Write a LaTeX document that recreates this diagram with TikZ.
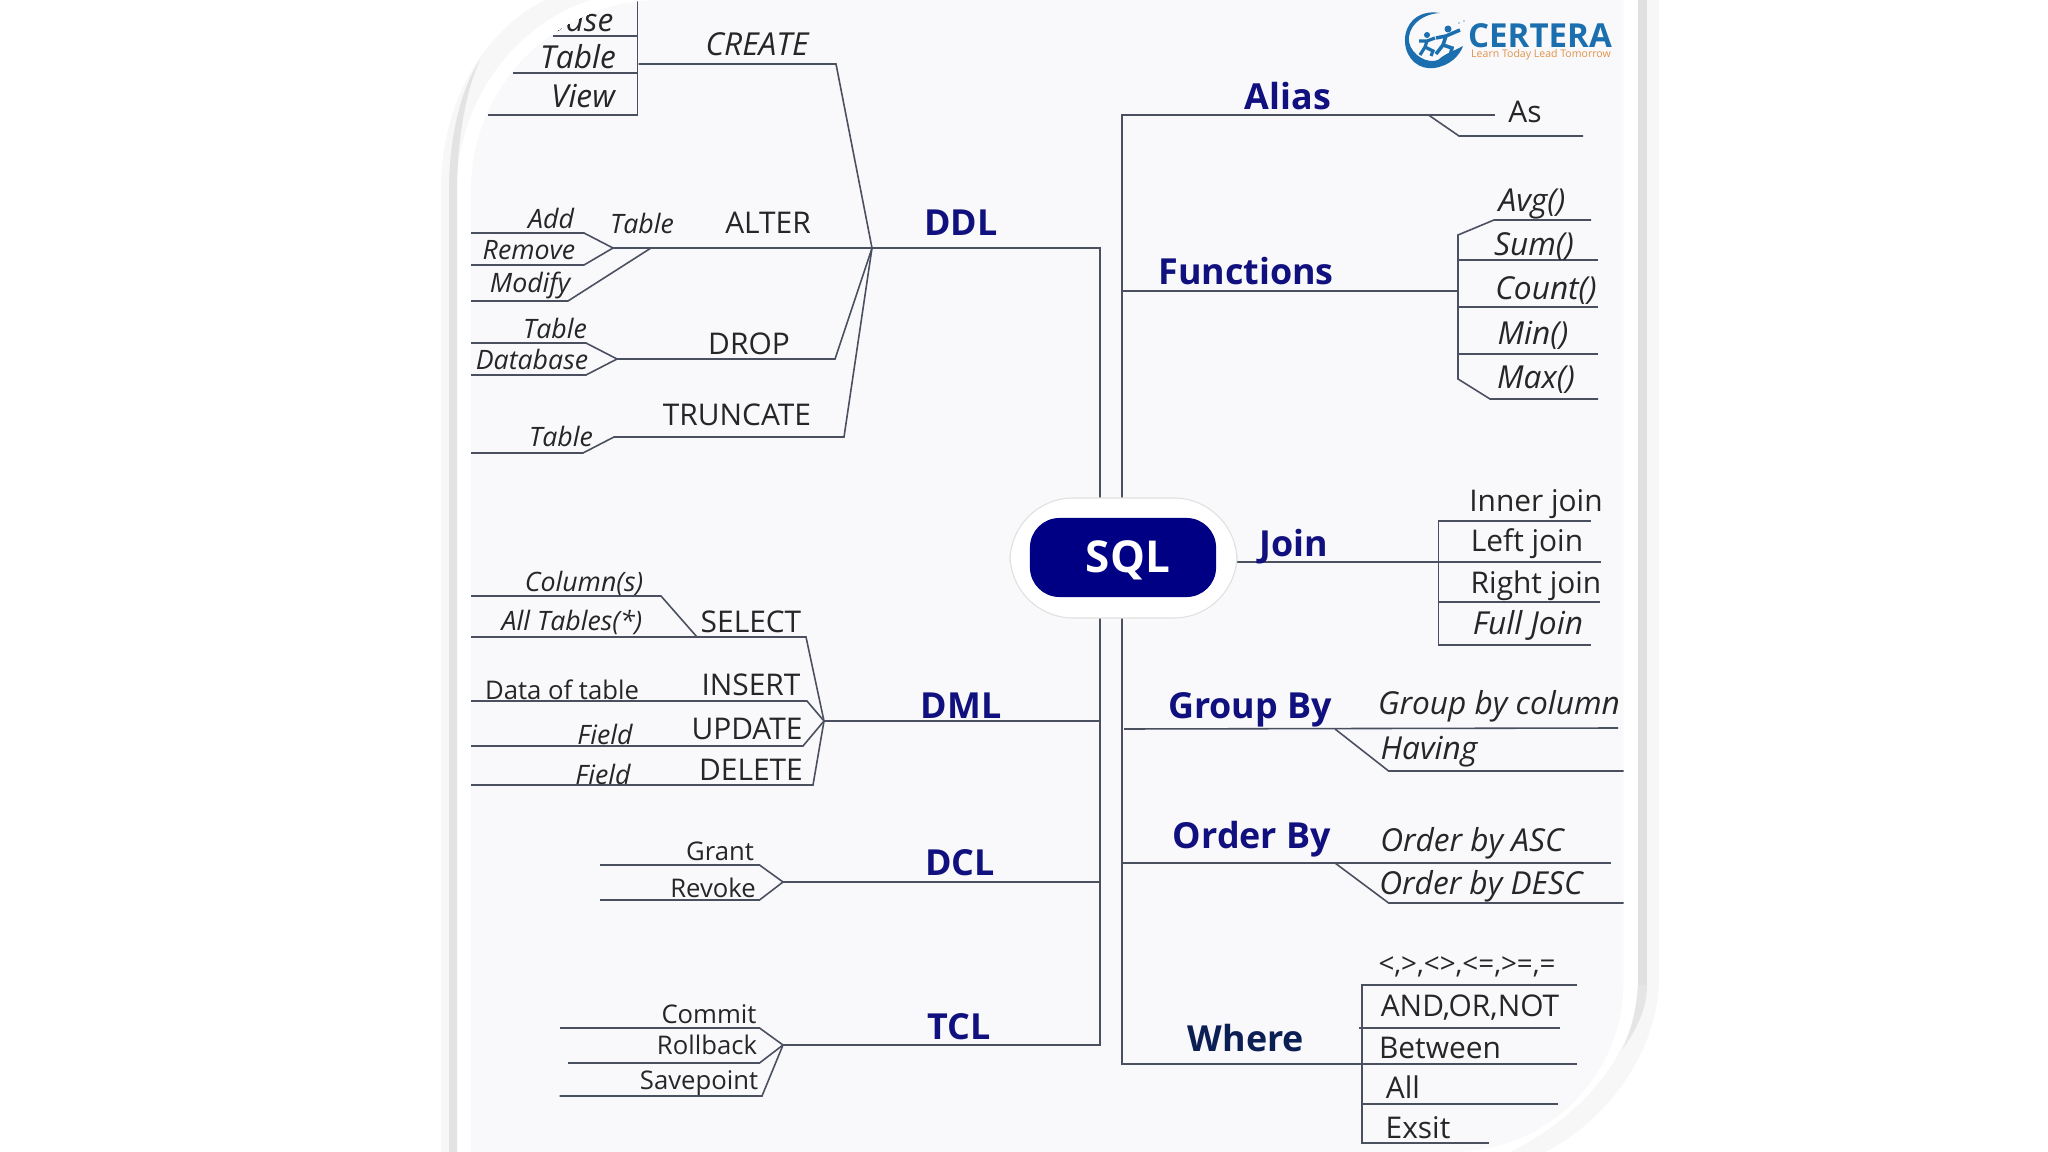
\documentclass[tikz,border=0pt]{standalone}
\usepackage{fontspec}
\setmainfont{Open Sans}
\definecolor{navy}{HTML}{10107F}
\definecolor{pillnavy}{HTML}{000085}
\definecolor{wherenavy}{HTML}{0B1F55}
\definecolor{wire}{HTML}{4A5060}
\definecolor{panel}{HTML}{F9F8FA}
\definecolor{logoblue}{HTML}{1B6FAE}
\definecolor{logoorange}{HTML}{E0924A}
\tikzset{
	line/.style={draw=wire, line width=0.45pt},
	head/.style={anchor=base, inner sep=0pt, yshift=-0.35pt, text=navy, font=\fontsize{10.2}{12}\selectfont\bfseries},
	leaf/.style={anchor=base, inner sep=0pt, yshift=-0.3pt, text=black!85, font=\fontsize{8.5}{10}\selectfont},
	leafit/.style={leaf, font=\fontsize{9}{10}\selectfont\itshape},
	tiny/.style={leaf, font=\fontsize{7.3}{9}\selectfont},
	tinyit/.style={leaf, font=\fontsize{7.6}{9}\selectfont\itshape},
}
\begin{document}
\begin{tikzpicture}[x=0.01cm, y=-0.01cm]
		\useasboundingbox (0, 0) rectangle (2048, 1152);
		
		%%%%% SHEET %%%%%
		\fill[black!3] (441, 1152) -- (441, 190) .. controls (441, 100) and (485, 30) .. (545, 0) -- (590, 0) .. controls (515, 25) and (457, 100) .. (457, 190) -- (457, 1152) -- cycle;
		\fill[black!11] (449, 1152) -- (449, 190) .. controls (449, 140) and (460, 90) .. (480, 60) .. controls (466, 90) and (457, 140) .. (457, 190) -- (457, 1152) -- cycle;
		\fill[black!3] (1638, 0) rectangle (1659, 985);
		\fill[black!12] (1638, 0) rectangle (1647, 985);
		\fill[black!3] (1638, 985) .. controls (1635, 1060) and (1575, 1120) .. (1510, 1152) -- (1545, 1152) .. controls (1600, 1125) and (1655, 1060) .. (1659, 985) -- cycle;
		\fill[black!10] (1638, 985) .. controls (1636, 1010) and (1632, 1030) .. (1622, 1050) .. controls (1636, 1030) and (1647, 1010) .. (1647, 985) -- cycle;
		\path[fill=panel] (471, 1152) -- (471, 190) .. controls (471, 85) and (556, 0) .. (661, 0) -- (1623.5, 0) -- (1623.5, 982) .. controls (1623.5, 1076) and (1547, 1152) .. (1453, 1152) -- cycle;
		
		\begin{scope}
			\clip (471, 1152) -- (471, 190) .. controls (471, 85) and (556, 0) .. (661, 0) -- (1623.5, 0) -- (1623.5, 982) .. controls (1623.5, 1076) and (1547, 1152) .. (1453, 1152) -- cycle;
			
			%%%%% LEFT %%%%%
			\coordinate (ddlhub) at (872, 248);
			\coordinate (dmlhub) at (824, 721);
			\coordinate (dclhub) at (783, 882);
			\coordinate (tclhub) at (783, 1045);
			\coordinate (ltrunk) at (1100, 248);
			\coordinate (ltrunkend) at (1100, 1045);
			\draw[line] (ddlhub) -- (ltrunk) -- (ltrunkend) -- (tclhub);
			\draw[line] (dmlhub) -- (ltrunk |- dmlhub);
			\draw[line] (dclhub) -- (ltrunk |- dclhub);
			
			% ddl
			\draw[line] (637.5, 0) -- (637.5, 115) -- (488, 115);
			\draw[line] (637.5, 36) -- (553, 36);
			\draw[line] (637.5, 73) -- (513, 73);
			\draw[line] (638.5, 64) -- (836, 64) -- (ddlhub);
			\draw[line] (471, 233) -- (584, 233) -- (613, 248) -- (584, 265) -- (471, 265);
			\draw[line] (613, 248) -- (ddlhub);
			\draw[line] (471, 301) -- (568, 301) -- (651, 248);
			\draw[line] (471, 343) -- (586, 343) -- (617, 359) -- (586, 375) -- (471, 375);
			\draw[line] (617, 359) -- (835, 359) -- (ddlhub);
			\draw[line] (471, 453) -- (583, 453) -- (614, 437) -- (844, 437) -- (ddlhub);
			
			\node[leafit, anchor=base east] (database) at (614, 30) {Database};
			\node[leafit] (createtable) at (578, 67) {Table};
			\node[leafit] (createview) at (583, 106) {View};
			\node[leafit] (create) at (757, 54) {CREATE};
			\node[leaf] (alter) at (768, 232) {ALTER};
			\node[tinyit] (altertable) at (642, 232) {Table};
			\node[tinyit] (add) at (551, 227) {Add};
			\node[tinyit] (remove) at (529, 258) {Remove};
			\node[tinyit] (modify) at (530, 291) {Modify};
			\node[leaf] (drop) at (749, 353) {DROP};
			\node[tinyit] (droptable) at (555, 337) {Table};
			\node[tinyit] (dropdb) at (532, 368) {Database};
			\node[leaf] (truncate) at (737, 424) {TRUNCATE};
			\node[tinyit] (trunctable) at (561, 445) {Table};
			\node[head] (ddl) at (961, 234) {DDL};
			
			% dml
			\draw[line] (471, 596) -- (661, 596) -- (697, 637);
			\draw[line] (471, 637) -- (806, 637) -- (dmlhub);
			\draw[line] (471, 701) -- (807, 701) -- (dmlhub) -- (803, 746) -- (471, 746);
			\draw[line] (471, 785) -- (813, 785) -- (dmlhub);
			
			\node[tinyit] (column) at (584, 590) {Column(s)};
			\node[tinyit] (alltables) at (572, 629) {All Tables(*)};
			\node[leaf] (select) at (751, 631) {SELECT};
			\node[leaf] (insert) at (751, 694) {INSERT};
			\node[tiny] (datatable) at (562, 698) {Data of table};
			\node[leaf] (update) at (747, 738) {UPDATE};
			\node[tinyit] (fieldu) at (605, 743) {Field};
			\node[leaf] (delete) at (751, 779) {DELETE};
			\node[tinyit] (fieldd) at (603, 783) {Field};
			\node[head] (dml) at (961, 717) {DML};
			
			% dcl, tcl
			\draw[line] (600, 865) -- (759.5, 865) -- (dclhub) -- (759.5, 900) -- (600, 900);
			\draw[line] (560, 1028) -- (759.5, 1028) -- (tclhub) -- (759.5, 1063) -- (568, 1063);
			\draw[line] (559.5, 1096) -- (762, 1096) -- (tclhub);
			
			\node[tiny] (grant) at (720, 859) {Grant};
			\node[tiny] (revoke) at (713, 896) {Revoke};
			\node[head] (dcl) at (960, 874) {DCL};
			\node[tiny] (commit) at (709, 1022) {Commit};
			\node[tiny] (rollback) at (707, 1053) {Rollback};
			\node[tiny] (savepoint) at (699, 1088) {Savepoint};
			\node[head] (tcl) at (959, 1038) {TCL};
			
			%%%%% RIGHT %%%%%
			\coordinate (rtrunk) at (1122, 115);
			\coordinate (rtrunkend) at (1122, 1064);
			\coordinate (funchub) at (1458, 291);
			\coordinate (joinstart) at (1236, 562);
			\coordinate (joinhub) at (1438.5, 562);
			\coordinate (wherehub) at (1362, 1064);
			\draw[line] (1495, 115) -- (rtrunk) -- (rtrunkend) -- (wherehub);
			\draw[line] (rtrunk |- funchub) -- (funchub);
			
			% alias
			\draw[line] (1428.5, 115) -- (1459, 136) -- (1583, 136);
			\node[head] (alias) at (1288, 108) {Alias};
			\node[leaf] (as) at (1525, 121) {As};
			
			% functions
			\draw[line] (1591, 220) -- (1494, 220) -- (1458, 235) -- (1458, 379) -- (1490, 399) -- (1598, 399);
			\foreach \y in {260, 307, 354}
				\draw[line] (1458, \y) -- (1598, \y);
			\node[head] (functions) at (1246, 283) {Functions};
			\node[leafit] (avg) at (1532, 210) {Avg()};
			\node[leafit] (sum) at (1534, 254) {Sum()};
			\node[leafit] (count) at (1546, 298) {Count()};
			\node[leafit] (min) at (1533, 343) {Min()};
			\node[leafit] (max) at (1536, 387) {Max()};
			
			% join
			\draw[line] (joinstart) -- (joinhub);
			\draw[line] (1591, 521) -- (1438.5, 521) -- (1438.5, 645) -- (1591, 645);
			\draw[line] (joinhub) -- (1600.5, 562);
			\draw[line] (1438.5, 602) -- (1600, 602);
			\node[head] (join) at (1294, 555) {Join};
			\node[leaf] (inner) at (1536, 510) {Inner join};
			\node[leaf] (left) at (1527, 550) {Left join};
			\node[leaf] (right) at (1536, 592) {Right join};
			\node[leafit] (full) at (1528, 633) {Full Join};
			
			% group by, order by
			\draw[line] (1124, 729) -- (1618, 728);
			\draw[line] (1335, 729) -- (1388.6, 771) -- (1623.5, 771);
			\draw[line] (rtrunk |- 0, 863) -- (1611, 863);
			\draw[line] (1335, 863) -- (1388.6, 903) -- (1623.5, 903);
			\node[head] (groupby) at (1250, 717) {Group By};
			\node[leafit] (groupcol) at (1499, 713) {Group by column};
			\node[leafit] (having) at (1429, 758) {Having};
			\node[head] (orderby) at (1252, 847) {Order By};
			\node[leafit] (orderasc) at (1472, 850) {Order by ASC};
			\node[leafit] (orderdesc) at (1481, 893) {Order by DESC};
			
			% where
			\draw[line] (wherehub) -- (1576.5, 1064);
			\draw[line] (1576.5, 985) -- (1362, 985) -- (1362, 1143) -- (1489, 1143);
			\draw[line] (1359, 1028) -- (1560, 1028);
			\draw[line] (1362, 1104) -- (1558, 1104);
			\node[head, text=wherenavy] (where) at (1246, 1050) {Where};
			\node[tiny, font=\fontsize{7.9}{9}\selectfont] (compare) at (1467, 972) {<,>,<>,<=,>=,=};
			\node[leaf] (andornot) at (1470, 1015) {AND,OR,NOT};
			\node[leaf] (between) at (1440, 1057) {Between};
			\node[leaf] (all) at (1403, 1097) {All};
			\node[leaf] (exsit) at (1418, 1137) {Exsit};
		\end{scope}
		
		%%%%% CENTRE %%%%%
		\draw[draw=black!12, fill=white, line width=0.3pt, rounded corners=60\pgflinewidth] (1010, 498) rectangle (1237, 618);
		\node[fill=pillnavy, rounded corners=8.4pt, minimum width=5.27cm*0.353, minimum height=0.79cm, inner sep=0pt, text=white, font=\fontsize{12.5}{14}\selectfont\bfseries] (sql) at (1123, 557.5) {\hspace*{2.8pt}\raisebox{-0.8pt}[\height][\depth]{SQL}};
		
		%%%%% LOGO %%%%%
		\fill[logoblue] (1440, 13) .. controls (1416, 9) and (1404, 26) .. (1405, 42) .. controls (1406, 60) and (1420, 70) .. (1434, 68) .. controls (1450, 66) and (1460, 55) .. (1463, 46) .. controls (1452, 52) and (1446, 53) .. (1438, 60) .. controls (1428, 64) and (1412, 56) .. (1409, 42) .. controls (1407, 28) and (1420, 14) .. (1440, 13) -- cycle;
		\fill[logoblue] (1427, 35) circle (3);
		\fill[logoblue] (1448, 29) circle (3.5);
		\draw[logoblue, line width=0.9pt] (1419, 41) -- (1427, 41) -- (1435, 38) (1427, 41) -- (1425, 47) -- (1420, 55) (1425, 47) -- (1433, 51) -- (1431, 56);
		\draw[logoblue, line width=1pt] (1436, 38) -- (1446, 36) -- (1460, 30) (1446, 36) -- (1443, 45) -- (1436, 54) (1443, 45) -- (1452, 48) -- (1450, 56);
		\fill[logoblue!60] (1459, 23) circle (0.8) (1464, 21) circle (0.8);
		\node[anchor=base, inner sep=0pt, text=logoblue, font=\fontsize{9.4}{11}\selectfont\bfseries] (certera) at (1540, 47.5) {CERTERA};
		\node[anchor=base, inner sep=0pt, text=logoorange, font=\fontsize{3}{4}\selectfont] (tagline) at (1541, 58) {Learn Today Lead Tomorrow};
	\end{tikzpicture}
\end{document}
